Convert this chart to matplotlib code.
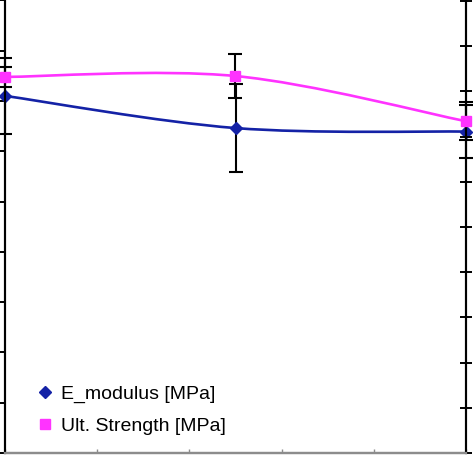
import matplotlib
matplotlib.use("Agg")
import matplotlib.pyplot as plt
from matplotlib.path import Path
from matplotlib.patches import PathPatch
from matplotlib.lines import Line2D

plt.rcParams['font.family'] = ['Liberation Sans', 'DejaVu Sans']

# data
x_vals = [0, 50, 100]
e_mod = [710, 646, 639]
e_mod_err = [75, 87, 52]
ult_str = [41.6, 41.7, 36.7]
ult_str_err = [1.1, 2.4, 2.1]

blue = '#1422A6'
magenta = '#FF33FF'


# Excel style smoothed line (cubic bezier through the points)
def smooth_path(xs, ys):
    n = len(xs)
    verts = [(xs[0], ys[0])]
    codes = [Path.MOVETO]
    for i in range(n - 1):
        a = max(i - 1, 0)
        b = min(i + 2, n - 1)
        c1 = (xs[i] + (xs[i + 1] - xs[a]) / 6, ys[i] + (ys[i + 1] - ys[a]) / 6)
        c2 = (xs[i + 1] - (xs[b] - xs[i]) / 6, ys[i + 1] - (ys[b] - ys[i]) / 6)
        verts += [c1, c2, (xs[i + 1], ys[i + 1])]
        codes += [Path.CURVE4] * 3
    return Path(verts, codes)


fig = plt.figure(figsize=(4.74, 4.55), dpi=100)
ax = fig.add_axes([5 / 474, 2 / 455, 461 / 474, 503 / 455])
ax2 = ax.twinx()

ax.set_xlim(0, 100)
ax.set_ylim(0, 1000)
ax2.set_ylim(0, 503 / 45.2 * 5)
ax.set_xticks(range(0, 101, 20))
ax.set_yticks(range(0, 1001, 100))
ax2.set_yticks(range(0, 56, 5))

# E modulus on left axis
ax.errorbar(x_vals, e_mod, yerr=e_mod_err, fmt='none', ecolor='black',
            elinewidth=1.5, capsize=4.7, capthick=1.5, zorder=3, clip_on=False)
ax.add_patch(PathPatch(smooth_path(x_vals, e_mod), fill=False, edgecolor=blue,
                       lw=1.9, zorder=4, clip_on=False))
ax.plot(x_vals, e_mod, ls='none', marker='D', ms=6, color=blue, zorder=5, clip_on=False)

# strength on right axis
ax2.errorbar(x_vals, ult_str, yerr=ult_str_err, fmt='none', ecolor='black',
             elinewidth=1.5, capsize=4.7, capthick=1.5, zorder=3, clip_on=False)
ax2.add_patch(PathPatch(smooth_path(x_vals, ult_str), fill=False, edgecolor=magenta,
                        lw=1.9, zorder=4, clip_on=False))
ax2.plot(x_vals, ult_str, ls='none', marker='s', ms=7, color=magenta, zorder=5, clip_on=False)

for a in (ax, ax2):
    a.spines['top'].set_visible(False)
    a.spines['left'].set_linewidth(1.5)
    a.spines['right'].set_linewidth(1.5)
    a.spines['bottom'].set_color('#8C8C8C')
    a.spines['bottom'].set_linewidth(1.6)

ax.tick_params(axis='y', direction='out', length=6, width=1.4, labelleft=False)
ax.tick_params(axis='x', direction='in', length=3, width=1, color='#8C8C8C', labelbottom=False)
ax2.tick_params(axis='y', direction='inout', length=9, width=1.4, labelright=False)

handles = [
    Line2D([], [], ls='none', marker='D', ms=6, color=blue),
    Line2D([], [], ls='none', marker='s', ms=7, color=magenta),
]
fig.legend(handles, ['E_modulus [MPa]', 'Ult. Strength [MPa]'], loc='lower left',
           bbox_to_anchor=(26 / 474, 10 / 455), frameon=False, fontsize=14,
           handlelength=1.0, handletextpad=0.3, labelspacing=0.75, borderpad=0)

fig.savefig('out.png', dpi=100)
